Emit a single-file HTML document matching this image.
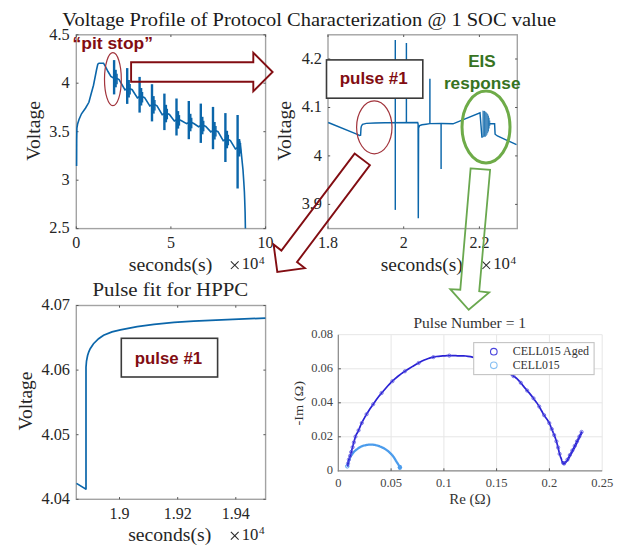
<!DOCTYPE html><html><head><meta charset="utf-8"><style>html,body{margin:0;padding:0;background:#fff;width:624px;height:548px;overflow:hidden}svg{display:block}</style></head><body>
<svg width="624" height="548" viewBox="0 0 624 548">
<rect width="624" height="548" fill="#fff"/>
<text x="62.3" y="25.8" font-family="'Liberation Serif', serif" font-size="19" font-weight="normal" fill="#1a1a1a" text-anchor="start" textLength="493.7" lengthAdjust="spacingAndGlyphs" >Voltage Profile of Protocol Characterization @ 1 SOC value</text>
<rect x="76.3" y="34.8" width="189.3" height="193.8" fill="none" stroke="#a3a3a3" stroke-width="1.4"/>
<line x1="76.3" y1="228.6" x2="76.3" y2="226.4" stroke="#555" stroke-width="1" />
<line x1="76.3" y1="34.8" x2="76.3" y2="37.0" stroke="#555" stroke-width="1" />
<line x1="170.9" y1="228.6" x2="170.9" y2="226.4" stroke="#555" stroke-width="1" />
<line x1="170.9" y1="34.8" x2="170.9" y2="37.0" stroke="#555" stroke-width="1" />
<line x1="265.6" y1="228.6" x2="265.6" y2="226.4" stroke="#555" stroke-width="1" />
<line x1="265.6" y1="34.8" x2="265.6" y2="37.0" stroke="#555" stroke-width="1" />
<line x1="76.3" y1="228.6" x2="78.5" y2="228.6" stroke="#555" stroke-width="1" />
<line x1="265.6" y1="228.6" x2="263.4" y2="228.6" stroke="#555" stroke-width="1" />
<line x1="76.3" y1="180.2" x2="78.5" y2="180.2" stroke="#555" stroke-width="1" />
<line x1="265.6" y1="180.2" x2="263.4" y2="180.2" stroke="#555" stroke-width="1" />
<line x1="76.3" y1="131.7" x2="78.5" y2="131.7" stroke="#555" stroke-width="1" />
<line x1="265.6" y1="131.7" x2="263.4" y2="131.7" stroke="#555" stroke-width="1" />
<line x1="76.3" y1="83.2" x2="78.5" y2="83.2" stroke="#555" stroke-width="1" />
<line x1="265.6" y1="83.2" x2="263.4" y2="83.2" stroke="#555" stroke-width="1" />
<line x1="76.3" y1="34.8" x2="78.5" y2="34.8" stroke="#555" stroke-width="1" />
<line x1="265.6" y1="34.8" x2="263.4" y2="34.8" stroke="#555" stroke-width="1" />
<text x="69.7" y="233.4" font-family="'Liberation Serif', serif" font-size="16.3" font-weight="normal" fill="#262626" text-anchor="end" >2.5</text>
<text x="69.7" y="185.0" font-family="'Liberation Serif', serif" font-size="16.3" font-weight="normal" fill="#262626" text-anchor="end" >3</text>
<text x="69.7" y="136.5" font-family="'Liberation Serif', serif" font-size="16.3" font-weight="normal" fill="#262626" text-anchor="end" >3.5</text>
<text x="69.7" y="88.0" font-family="'Liberation Serif', serif" font-size="16.3" font-weight="normal" fill="#262626" text-anchor="end" >4</text>
<text x="69.7" y="39.6" font-family="'Liberation Serif', serif" font-size="16.3" font-weight="normal" fill="#262626" text-anchor="end" >4.5</text>
<text x="76.3" y="248.2" font-family="'Liberation Serif', serif" font-size="16" font-weight="normal" fill="#262626" text-anchor="middle" >0</text>
<text x="170.9" y="248.2" font-family="'Liberation Serif', serif" font-size="16" font-weight="normal" fill="#262626" text-anchor="middle" >5</text>
<text x="265.6" y="248.2" font-family="'Liberation Serif', serif" font-size="16" font-weight="normal" fill="#262626" text-anchor="middle" >10</text>
<text x="128.8" y="270.5" font-family="'Liberation Serif', serif" font-size="18" font-weight="normal" fill="#262626" text-anchor="start" textLength="83.5" lengthAdjust="spacingAndGlyphs" >seconds(s)</text>
<line x1="230.9" y1="261.3" x2="238.6" y2="269.0" stroke="#262626" stroke-width="1.05" />
<line x1="238.6" y1="261.3" x2="230.9" y2="269.0" stroke="#262626" stroke-width="1.05" />
<text x="241.7" y="269.3" font-family="'Liberation Serif', serif" font-size="16.7" fill="#262626">10</text>
<text x="259.1" y="263.6" font-family="'Liberation Serif', serif" font-size="11.2" fill="#262626">4</text>
<text transform="translate(39.7,160.8) rotate(-90)" x="0" y="0" font-family="'Liberation Serif', serif" font-size="18" fill="#262626" textLength="59.8" lengthAdjust="spacingAndGlyphs">Voltage</text>
<rect x="328" y="34.8" width="189.3" height="193.8" fill="none" stroke="#a3a3a3" stroke-width="1.4"/>
<line x1="328.0" y1="228.6" x2="328.0" y2="226.4" stroke="#555" stroke-width="1" />
<line x1="328.0" y1="34.8" x2="328.0" y2="37.0" stroke="#555" stroke-width="1" />
<line x1="403.7" y1="228.6" x2="403.7" y2="226.4" stroke="#555" stroke-width="1" />
<line x1="403.7" y1="34.8" x2="403.7" y2="37.0" stroke="#555" stroke-width="1" />
<line x1="479.4" y1="228.6" x2="479.4" y2="226.4" stroke="#555" stroke-width="1" />
<line x1="479.4" y1="34.8" x2="479.4" y2="37.0" stroke="#555" stroke-width="1" />
<line x1="328.0" y1="204.4" x2="330.2" y2="204.4" stroke="#555" stroke-width="1" />
<line x1="517.3" y1="204.4" x2="515.1" y2="204.4" stroke="#555" stroke-width="1" />
<line x1="328.0" y1="155.9" x2="330.2" y2="155.9" stroke="#555" stroke-width="1" />
<line x1="517.3" y1="155.9" x2="515.1" y2="155.9" stroke="#555" stroke-width="1" />
<line x1="328.0" y1="107.5" x2="330.2" y2="107.5" stroke="#555" stroke-width="1" />
<line x1="517.3" y1="107.5" x2="515.1" y2="107.5" stroke="#555" stroke-width="1" />
<line x1="328.0" y1="59.0" x2="330.2" y2="59.0" stroke="#555" stroke-width="1" />
<line x1="517.3" y1="59.0" x2="515.1" y2="59.0" stroke="#555" stroke-width="1" />
<text x="322.0" y="209.2" font-family="'Liberation Serif', serif" font-size="16.3" font-weight="normal" fill="#262626" text-anchor="end" >3.9</text>
<text x="322.0" y="160.7" font-family="'Liberation Serif', serif" font-size="16.3" font-weight="normal" fill="#262626" text-anchor="end" >4</text>
<text x="322.0" y="112.3" font-family="'Liberation Serif', serif" font-size="16.3" font-weight="normal" fill="#262626" text-anchor="end" >4.1</text>
<text x="322.0" y="63.8" font-family="'Liberation Serif', serif" font-size="16.3" font-weight="normal" fill="#262626" text-anchor="end" >4.2</text>
<text x="328.0" y="248.2" font-family="'Liberation Serif', serif" font-size="16" font-weight="normal" fill="#262626" text-anchor="middle" >1.8</text>
<text x="403.7" y="248.2" font-family="'Liberation Serif', serif" font-size="16" font-weight="normal" fill="#262626" text-anchor="middle" >2</text>
<text x="479.4" y="248.2" font-family="'Liberation Serif', serif" font-size="16" font-weight="normal" fill="#262626" text-anchor="middle" >2.2</text>
<text x="380.8" y="270.5" font-family="'Liberation Serif', serif" font-size="18" font-weight="normal" fill="#262626" text-anchor="start" textLength="82.0" lengthAdjust="spacingAndGlyphs" >seconds(s)</text>
<line x1="482.4" y1="261.3" x2="490.1" y2="269.0" stroke="#262626" stroke-width="1.05" />
<line x1="490.1" y1="261.3" x2="482.4" y2="269.0" stroke="#262626" stroke-width="1.05" />
<text x="493.2" y="269.3" font-family="'Liberation Serif', serif" font-size="16.7" fill="#262626">10</text>
<text x="510.6" y="263.6" font-family="'Liberation Serif', serif" font-size="11.2" fill="#262626">4</text>
<text transform="translate(291.3,160.8) rotate(-90)" x="0" y="0" font-family="'Liberation Serif', serif" font-size="18" fill="#262626" textLength="59.8" lengthAdjust="spacingAndGlyphs">Voltage</text>
<rect x="76.3" y="305.5" width="189.3" height="193.8" fill="none" stroke="#a3a3a3" stroke-width="1.4"/>
<line x1="119.5" y1="499.3" x2="119.5" y2="497.1" stroke="#555" stroke-width="1" />
<line x1="119.5" y1="305.5" x2="119.5" y2="307.7" stroke="#555" stroke-width="1" />
<line x1="177.7" y1="499.3" x2="177.7" y2="497.1" stroke="#555" stroke-width="1" />
<line x1="177.7" y1="305.5" x2="177.7" y2="307.7" stroke="#555" stroke-width="1" />
<line x1="235.8" y1="499.3" x2="235.8" y2="497.1" stroke="#555" stroke-width="1" />
<line x1="235.8" y1="305.5" x2="235.8" y2="307.7" stroke="#555" stroke-width="1" />
<line x1="76.3" y1="499.3" x2="78.5" y2="499.3" stroke="#555" stroke-width="1" />
<line x1="265.6" y1="499.3" x2="263.4" y2="499.3" stroke="#555" stroke-width="1" />
<line x1="76.3" y1="434.7" x2="78.5" y2="434.7" stroke="#555" stroke-width="1" />
<line x1="265.6" y1="434.7" x2="263.4" y2="434.7" stroke="#555" stroke-width="1" />
<line x1="76.3" y1="370.1" x2="78.5" y2="370.1" stroke="#555" stroke-width="1" />
<line x1="265.6" y1="370.1" x2="263.4" y2="370.1" stroke="#555" stroke-width="1" />
<line x1="76.3" y1="305.5" x2="78.5" y2="305.5" stroke="#555" stroke-width="1" />
<line x1="265.6" y1="305.5" x2="263.4" y2="305.5" stroke="#555" stroke-width="1" />
<text x="70.0" y="504.1" font-family="'Liberation Serif', serif" font-size="16.3" font-weight="normal" fill="#262626" text-anchor="end" >4.04</text>
<text x="70.0" y="439.5" font-family="'Liberation Serif', serif" font-size="16.3" font-weight="normal" fill="#262626" text-anchor="end" >4.05</text>
<text x="70.0" y="374.9" font-family="'Liberation Serif', serif" font-size="16.3" font-weight="normal" fill="#262626" text-anchor="end" >4.06</text>
<text x="70.0" y="310.3" font-family="'Liberation Serif', serif" font-size="16.3" font-weight="normal" fill="#262626" text-anchor="end" >4.07</text>
<text x="119.5" y="519.0" font-family="'Liberation Serif', serif" font-size="16" font-weight="normal" fill="#262626" text-anchor="middle" >1.9</text>
<text x="177.7" y="519.0" font-family="'Liberation Serif', serif" font-size="16" font-weight="normal" fill="#262626" text-anchor="middle" >1.92</text>
<text x="235.8" y="519.0" font-family="'Liberation Serif', serif" font-size="16" font-weight="normal" fill="#262626" text-anchor="middle" >1.94</text>
<text x="92.4" y="296.0" font-family="'Liberation Serif', serif" font-size="18.6" font-weight="normal" fill="#262626" text-anchor="start" textLength="155.9" lengthAdjust="spacingAndGlyphs" >Pulse fit for HPPC</text>
<text x="128.2" y="540.8" font-family="'Liberation Serif', serif" font-size="18" font-weight="normal" fill="#262626" text-anchor="start" textLength="83.0" lengthAdjust="spacingAndGlyphs" >seconds(s)</text>
<line x1="230.9" y1="531.9" x2="238.6" y2="539.6" stroke="#262626" stroke-width="1.05" />
<line x1="238.6" y1="531.9" x2="230.9" y2="539.6" stroke="#262626" stroke-width="1.05" />
<text x="241.7" y="539.9" font-family="'Liberation Serif', serif" font-size="16.7" fill="#262626">10</text>
<text x="259.1" y="534.2" font-family="'Liberation Serif', serif" font-size="11.2" fill="#262626">4</text>
<text transform="translate(31.8,430.6) rotate(-90)" x="0" y="0" font-family="'Liberation Serif', serif" font-size="18" fill="#262626" textLength="59.1" lengthAdjust="spacingAndGlyphs">Voltage</text>
<line x1="391.1" y1="334.7" x2="391.1" y2="470.9" stroke="#e6e6e6" stroke-width="1" />
<line x1="443.9" y1="334.7" x2="443.9" y2="470.9" stroke="#e6e6e6" stroke-width="1" />
<line x1="496.6" y1="334.7" x2="496.6" y2="470.9" stroke="#e6e6e6" stroke-width="1" />
<line x1="549.4" y1="334.7" x2="549.4" y2="470.9" stroke="#e6e6e6" stroke-width="1" />
<line x1="602.2" y1="334.7" x2="602.2" y2="470.9" stroke="#e6e6e6" stroke-width="1" />
<line x1="338.3" y1="436.8" x2="602.2" y2="436.8" stroke="#e6e6e6" stroke-width="1" />
<line x1="338.3" y1="402.8" x2="602.2" y2="402.8" stroke="#e6e6e6" stroke-width="1" />
<line x1="338.3" y1="368.8" x2="602.2" y2="368.8" stroke="#e6e6e6" stroke-width="1" />
<line x1="338.3" y1="334.7" x2="602.2" y2="334.7" stroke="#e6e6e6" stroke-width="1" />
<line x1="338.3" y1="334.7" x2="338.3" y2="471.4" stroke="#858585" stroke-width="1.2" />
<line x1="337.8" y1="470.9" x2="602.2" y2="470.9" stroke="#858585" stroke-width="1.2" />
<line x1="391.1" y1="470.9" x2="391.1" y2="468.3" stroke="#555" stroke-width="1" />
<line x1="443.9" y1="470.9" x2="443.9" y2="468.3" stroke="#555" stroke-width="1" />
<line x1="496.6" y1="470.9" x2="496.6" y2="468.3" stroke="#555" stroke-width="1" />
<line x1="549.4" y1="470.9" x2="549.4" y2="468.3" stroke="#555" stroke-width="1" />
<line x1="338.3" y1="436.8" x2="340.9" y2="436.8" stroke="#555" stroke-width="1" />
<line x1="338.3" y1="402.8" x2="340.9" y2="402.8" stroke="#555" stroke-width="1" />
<line x1="338.3" y1="368.8" x2="340.9" y2="368.8" stroke="#555" stroke-width="1" />
<text x="338.3" y="487.0" font-family="'Liberation Serif', serif" font-size="12.5" font-weight="normal" fill="#444" text-anchor="middle" >0</text>
<text x="391.1" y="487.0" font-family="'Liberation Serif', serif" font-size="12.5" font-weight="normal" fill="#444" text-anchor="middle" >0.05</text>
<text x="443.9" y="487.0" font-family="'Liberation Serif', serif" font-size="12.5" font-weight="normal" fill="#444" text-anchor="middle" >0.1</text>
<text x="496.6" y="487.0" font-family="'Liberation Serif', serif" font-size="12.5" font-weight="normal" fill="#444" text-anchor="middle" >0.15</text>
<text x="549.4" y="487.0" font-family="'Liberation Serif', serif" font-size="12.5" font-weight="normal" fill="#444" text-anchor="middle" >0.2</text>
<text x="602.2" y="487.0" font-family="'Liberation Serif', serif" font-size="12.5" font-weight="normal" fill="#444" text-anchor="middle" >0.25</text>
<text x="333.0" y="474.1" font-family="'Liberation Serif', serif" font-size="12.5" font-weight="normal" fill="#444" text-anchor="end" >0</text>
<text x="333.0" y="440.0" font-family="'Liberation Serif', serif" font-size="12.5" font-weight="normal" fill="#444" text-anchor="end" >0.02</text>
<text x="333.0" y="406.0" font-family="'Liberation Serif', serif" font-size="12.5" font-weight="normal" fill="#444" text-anchor="end" >0.04</text>
<text x="333.0" y="371.9" font-family="'Liberation Serif', serif" font-size="12.5" font-weight="normal" fill="#444" text-anchor="end" >0.06</text>
<text x="333.0" y="337.9" font-family="'Liberation Serif', serif" font-size="12.5" font-weight="normal" fill="#444" text-anchor="end" >0.08</text>
<text x="413.5" y="327.5" font-family="'Liberation Serif', serif" font-size="14" font-weight="normal" fill="#333" text-anchor="start" textLength="112.5" lengthAdjust="spacingAndGlyphs" >Pulse Number = 1</text>
<text x="449.3" y="504.2" font-family="'Liberation Serif', serif" font-size="14" font-weight="normal" fill="#333" text-anchor="start" textLength="41.3" lengthAdjust="spacingAndGlyphs" >Re (Ω)</text>
<text transform="translate(302.7,425.6) rotate(-90)" x="0" y="0" font-family="'Liberation Serif', serif" font-size="13" fill="#333" textLength="44.6" lengthAdjust="spacingAndGlyphs">-Im (Ω)</text>
<polyline points="76.6,166.0 76.7,140.0 76.9,128.0 77.6,124.0 79.0,119.5 81.5,113.8 85.6,108.0 88.9,102.3 91.3,93.3 93.5,85.2 96.5,70.0 97.8,64.2 99.0,63.2 103.5,63.2 105.1,65.9 108.0,71.5 110.9,76.5 113.9,78.3 117.1,78.5 119.1,79.5 125.0,89.9 126.7,88.9 130.2,88.7 132.2,89.7 137.4,97.9 139.1,96.9 142.6,96.7 144.6,97.7 149.8,106.0 151.5,105.0 155.0,104.8 157.0,105.8 162.2,114.7 163.9,113.7 167.4,113.5 169.4,114.5 174.3,121.0 176.0,120.0 179.5,119.8 181.5,120.8 186.6,123.7 188.3,122.7 191.8,122.5 193.8,123.5 198.6,126.7 200.3,125.7 203.8,125.5 205.8,126.5 210.8,131.9 212.5,130.9 216.0,130.7 218.0,131.7 223.2,140.7 224.9,139.7 228.4,139.5 230.4,140.5 235.4,148.9 237.1,147.9 237.7,147.2 238.6,143.0 239.8,142.0 241.0,150.0 242.0,160.2 243.0,170.0 243.8,182.0 244.4,192.0 244.7,200.0 245.1,212.0 245.4,228.6" fill="none" stroke="#0b66aa" stroke-width="1.6" stroke-linejoin="miter" />
<line x1="114.1" y1="60.1" x2="114.1" y2="94.4" stroke="#0b66aa" stroke-width="2.4" />
<line x1="115.7" y1="69.8" x2="115.7" y2="87.3" stroke="#0b66aa" stroke-width="2.2" />
<line x1="117.0" y1="73.8" x2="117.0" y2="84.3" stroke="#0b66aa" stroke-width="1.5" />
<line x1="127.2" y1="68.1" x2="127.2" y2="103.9" stroke="#0b66aa" stroke-width="2.4" />
<line x1="128.8" y1="80.0" x2="128.8" y2="97.5" stroke="#0b66aa" stroke-width="2.2" />
<line x1="130.1" y1="84.0" x2="130.1" y2="94.5" stroke="#0b66aa" stroke-width="1.5" />
<line x1="139.6" y1="76.9" x2="139.6" y2="112.6" stroke="#0b66aa" stroke-width="2.4" />
<line x1="141.2" y1="88.0" x2="141.2" y2="105.5" stroke="#0b66aa" stroke-width="2.2" />
<line x1="142.5" y1="92.0" x2="142.5" y2="102.5" stroke="#0b66aa" stroke-width="1.5" />
<line x1="152.0" y1="84.2" x2="152.0" y2="121.4" stroke="#0b66aa" stroke-width="2.4" />
<line x1="153.6" y1="96.1" x2="153.6" y2="113.6" stroke="#0b66aa" stroke-width="2.2" />
<line x1="154.9" y1="100.1" x2="154.9" y2="110.6" stroke="#0b66aa" stroke-width="1.5" />
<line x1="164.4" y1="93.6" x2="164.4" y2="130.1" stroke="#0b66aa" stroke-width="2.4" />
<line x1="166.0" y1="104.8" x2="166.0" y2="122.3" stroke="#0b66aa" stroke-width="2.2" />
<line x1="167.3" y1="108.8" x2="167.3" y2="119.3" stroke="#0b66aa" stroke-width="1.5" />
<line x1="176.5" y1="98.5" x2="176.5" y2="135.5" stroke="#0b66aa" stroke-width="2.4" />
<line x1="178.1" y1="111.1" x2="178.1" y2="128.6" stroke="#0b66aa" stroke-width="2.2" />
<line x1="179.4" y1="115.1" x2="179.4" y2="125.6" stroke="#0b66aa" stroke-width="1.5" />
<line x1="188.8" y1="101.0" x2="188.8" y2="139.2" stroke="#0b66aa" stroke-width="2.4" />
<line x1="190.4" y1="113.8" x2="190.4" y2="131.3" stroke="#0b66aa" stroke-width="2.2" />
<line x1="191.7" y1="117.8" x2="191.7" y2="128.3" stroke="#0b66aa" stroke-width="1.5" />
<line x1="200.8" y1="103.6" x2="200.8" y2="142.9" stroke="#0b66aa" stroke-width="2.4" />
<line x1="202.4" y1="116.8" x2="202.4" y2="134.3" stroke="#0b66aa" stroke-width="2.2" />
<line x1="203.7" y1="120.8" x2="203.7" y2="131.3" stroke="#0b66aa" stroke-width="1.5" />
<line x1="213.0" y1="106.9" x2="213.0" y2="149.2" stroke="#0b66aa" stroke-width="2.4" />
<line x1="214.6" y1="122.0" x2="214.6" y2="139.5" stroke="#0b66aa" stroke-width="2.2" />
<line x1="215.9" y1="126.0" x2="215.9" y2="136.5" stroke="#0b66aa" stroke-width="1.5" />
<line x1="225.4" y1="113.1" x2="225.4" y2="162.0" stroke="#0b66aa" stroke-width="2.4" />
<line x1="227.0" y1="130.8" x2="227.0" y2="148.3" stroke="#0b66aa" stroke-width="2.2" />
<line x1="228.3" y1="134.8" x2="228.3" y2="145.3" stroke="#0b66aa" stroke-width="1.5" />
<line x1="237.6" y1="115.0" x2="237.6" y2="188.5" stroke="#0b66aa" stroke-width="2.4" />
<line x1="239.2" y1="139.0" x2="239.2" y2="156.5" stroke="#0b66aa" stroke-width="2.2" />
<line x1="240.5" y1="143.0" x2="240.5" y2="153.5" stroke="#0b66aa" stroke-width="1.5" />
<polyline points="328.2,122.5 356.7,134.2 359.5,135.4 360.6,135.2 361.0,128.0 361.4,126.2 362.5,124.4 366.3,123.4 375.0,123.0 385.0,122.7 417.7,122.6 418.1,124.0 418.3,218.3 418.6,128.0 419.6,125.6 422.0,124.8 426.0,124.2 429.9,123.6 441.4,123.5 453.0,123.8 480.0,112.8 481.9,137.0 482.8,137.0" fill="none" stroke="#0b66aa" stroke-width="1.45" stroke-linejoin="miter" />
<line x1="395.3" y1="40.0" x2="395.3" y2="209.9" stroke="#0b66aa" stroke-width="1.45" />
<line x1="406.4" y1="43.0" x2="406.4" y2="122.8" stroke="#0b66aa" stroke-width="1.45" />
<line x1="429.9" y1="78.7" x2="429.9" y2="123.6" stroke="#0b66aa" stroke-width="1.45" />
<line x1="441.1" y1="123.5" x2="441.1" y2="168.9" stroke="#0b66aa" stroke-width="1.45" />
<line x1="482.9" y1="110.6" x2="482.9" y2="137.0" stroke="#0b66aa" stroke-width="0.8" />
<line x1="483.7" y1="111.0" x2="483.7" y2="137.2" stroke="#0b66aa" stroke-width="0.8" />
<line x1="484.5" y1="110.9" x2="484.5" y2="136.6" stroke="#0b66aa" stroke-width="0.8" />
<line x1="485.3" y1="111.6" x2="485.3" y2="136.9" stroke="#0b66aa" stroke-width="0.8" />
<line x1="486.1" y1="112.2" x2="486.1" y2="136.0" stroke="#0b66aa" stroke-width="0.8" />
<line x1="486.9" y1="113.0" x2="486.9" y2="134.8" stroke="#0b66aa" stroke-width="0.8" />
<line x1="487.7" y1="114.0" x2="487.7" y2="133.2" stroke="#0b66aa" stroke-width="0.8" />
<line x1="488.5" y1="115.6" x2="488.5" y2="131.5" stroke="#0b66aa" stroke-width="0.8" />
<line x1="489.2" y1="117.8" x2="489.2" y2="128.5" stroke="#0b66aa" stroke-width="0.8" />
<line x1="489.8" y1="120.5" x2="489.8" y2="126.0" stroke="#0b66aa" stroke-width="0.8" />
<polyline points="489.5,123.7 494.6,123.7 495.1,134.2 497.4,136.0 516.5,144.7" fill="none" stroke="#0b66aa" stroke-width="1.45" stroke-linejoin="miter" />
<polyline points="76.5,483.4 85.8,489.1 86.0,489.5 86.0,392.0 86.0,367.2 86.5,361.0 87.6,355.5 88.8,351.8 90.2,348.7 93.5,343.7 98.6,338.7 103.6,335.3 112.0,331.9 120.4,329.9 137.2,326.6 154.0,324.4 174.0,322.4 193.6,321.1 227.2,319.6 265.4,318.1" fill="none" stroke="#0b66aa" stroke-width="1.7" stroke-linejoin="miter" />
<polyline points="347.3,466.5 347.4,466.0 347.6,465.4 347.8,464.6 348.0,463.7 348.2,462.8 348.5,462.0 348.8,461.2 349.1,460.3 349.4,459.4 349.7,458.6 350.0,457.8 350.4,457.0 350.8,456.3 351.1,455.6 351.5,455.0 352.0,454.4 352.4,453.9 352.8,453.3 353.2,452.8 353.6,452.3 354.0,451.8 354.5,451.3 355.0,450.8 355.6,450.3 356.3,449.7 357.2,449.1 358.1,448.4 359.0,447.8 359.9,447.2 360.8,446.7 361.7,446.3 362.5,446.0 363.4,445.7 364.3,445.5 365.1,445.3 366.0,445.1 366.9,444.9 367.7,444.8 368.6,444.7 369.5,444.6 370.4,444.6 371.2,444.6 372.1,444.6 373.0,444.7 373.9,444.8 374.8,444.9 375.6,445.1 376.5,445.3 377.4,445.5 378.3,445.8 379.2,446.1 380.0,446.5 380.9,446.8 381.7,447.2 382.5,447.6 383.2,447.9 383.9,448.3 384.6,448.7 385.3,449.1 386.0,449.6 386.7,450.1 387.4,450.6 388.1,451.2 388.7,451.7 389.4,452.3 390.0,452.9 390.6,453.5 391.2,454.1 391.8,454.8 392.4,455.4 393.0,456.1 393.5,456.8 394.0,457.5 394.5,458.3 395.0,459.1 395.4,459.8 395.8,460.6 396.2,461.2 396.6,461.9 397.0,462.4 397.3,463.0 397.7,463.5 398.0,464.0 398.3,464.5 398.6,465.0 398.9,465.5 399.2,466.0 399.5,466.4 399.7,466.7 399.9,467.0" fill="none" stroke="#4b9cec" stroke-width="2.3" stroke-linejoin="miter" />
<ellipse cx="399.9" cy="467.3" rx="2.2" ry="2.6" fill="#4b9cec"/>
<circle cx="347.3" cy="466.3" r="1.8" fill="none" stroke="#4b9cec" stroke-width="0.9"/>
<polyline points="347.6,466.5 347.7,465.9 347.8,465.1 347.9,464.1 348.1,463.1 348.3,462.0 348.5,461.0 348.8,460.1 349.0,459.2 349.3,458.2 349.7,457.3 350.0,456.2 350.4,455.0 350.8,453.6 351.2,452.1 351.7,450.5 352.1,448.9 352.6,447.2 353.0,445.6 353.4,444.0 353.8,442.4 354.3,440.8 354.7,439.2 355.1,437.7 355.6,436.3 356.1,435.1 356.6,434.0 357.2,433.0 357.7,432.0 358.2,431.0 358.8,430.0 359.2,429.0 359.5,428.1 359.9,427.1 360.3,426.1 360.8,424.9 361.5,423.5 362.3,421.9 363.2,420.1 364.3,418.2 365.4,416.1 366.8,413.9 368.3,411.5 370.0,408.8 372.0,405.9 374.1,402.9 376.3,399.7 378.7,396.6 381.1,393.6 383.6,390.7 386.2,387.7 388.8,384.8 391.6,381.9 394.6,379.2 397.7,376.5 401.1,373.9 404.9,371.3 408.8,368.8 412.6,366.4 416.2,364.3 419.4,362.5 422.0,361.1 424.3,360.0 426.4,359.2 428.3,358.5 430.2,357.9 432.2,357.4 434.3,356.9 436.4,356.5 438.5,356.3 440.7,356.1 442.8,355.9 444.9,355.8 447.0,355.7 449.2,355.6 451.3,355.6 453.4,355.7 455.6,355.7 457.7,355.8 459.8,355.8 461.8,355.9 463.7,355.9 465.8,356.0 468.0,356.3 470.5,356.7 473.3,357.3 476.3,358.1 479.5,359.1 482.7,360.1 485.9,361.3 489.0,362.5 492.0,363.9 495.1,365.5 498.2,367.2 501.2,368.9 503.9,370.5 506.4,372.0 508.6,373.2 510.5,374.3 512.2,375.3 513.7,376.3 515.2,377.3 516.7,378.5 518.1,379.8 519.5,381.3 520.7,382.8 521.9,384.3 523.2,385.9 524.4,387.4 525.7,388.9 527.0,390.4 528.3,391.9 529.6,393.4 530.8,394.9 532.0,396.4 533.2,397.9 534.3,399.4 535.4,400.9 536.5,402.4 537.5,403.9 538.5,405.4 539.4,406.9 540.3,408.5 541.1,410.0 542.0,411.5 542.8,413.0 543.6,414.4 544.5,415.7 545.3,417.0 546.2,418.2 547.1,419.4 547.9,420.7 548.7,422.0 549.4,423.4 550.1,424.8 550.7,426.3 551.4,427.9 552.0,429.4 552.6,431.0 553.2,432.6 553.9,434.2 554.5,435.9 555.2,437.6 555.8,439.4 556.4,441.3 557.0,443.4 557.6,445.7 558.2,448.0 558.7,450.3 559.2,452.4 559.7,454.1 560.1,455.5 560.4,456.5 560.7,457.4 561.0,458.1 561.3,458.8 561.5,459.5 561.7,460.2 561.9,460.8 562.1,461.3 562.2,461.8 562.4,462.2 562.6,462.6 562.8,462.9 563.0,463.2 563.3,463.4 563.5,463.5 563.8,463.6 564.0,463.6 564.3,463.5 564.5,463.4 564.8,463.2 565.1,463.0 565.3,462.7 565.6,462.4 565.9,462.1 566.2,461.7 566.5,461.2 566.7,460.8 566.9,460.5 567.1,460.2 574.1,447.1 581.8,431.5" fill="none" stroke="#2a22d4" stroke-width="1.7" stroke-linejoin="miter" />
<polyline points="563.0,463.8 567.8,460.5 574.8,447.6 582.3,432.2" fill="none" stroke="#2a22d4" stroke-width="1.4" stroke-linejoin="miter" />
<ellipse cx="563.6" cy="463" rx="2.3" ry="1.8" fill="#2a22d4"/>
<circle cx="348.0" cy="463.5" r="1.6" fill="none" stroke="#5b55e0" stroke-width="0.8"/>
<circle cx="348.9" cy="459.6" r="1.6" fill="none" stroke="#5b55e0" stroke-width="0.8"/>
<circle cx="350.1" cy="455.8" r="1.6" fill="none" stroke="#5b55e0" stroke-width="0.8"/>
<circle cx="351.2" cy="452.0" r="1.6" fill="none" stroke="#5b55e0" stroke-width="0.8"/>
<circle cx="352.6" cy="447.2" r="1.6" fill="none" stroke="#5b55e0" stroke-width="0.8"/>
<circle cx="353.9" cy="442.3" r="1.6" fill="none" stroke="#5b55e0" stroke-width="0.8"/>
<circle cx="355.5" cy="436.6" r="1.6" fill="none" stroke="#5b55e0" stroke-width="0.8"/>
<circle cx="358.6" cy="430.3" r="1.6" fill="none" stroke="#5b55e0" stroke-width="0.8"/>
<circle cx="361.8" cy="423.0" r="1.6" fill="none" stroke="#5b55e0" stroke-width="0.8"/>
<circle cx="366.6" cy="414.2" r="1.6" fill="none" stroke="#5b55e0" stroke-width="0.8"/>
<circle cx="373.2" cy="404.2" r="1.6" fill="none" stroke="#5b55e0" stroke-width="0.8"/>
<circle cx="381.6" cy="393.0" r="1.6" fill="none" stroke="#5b55e0" stroke-width="0.8"/>
<circle cx="392.4" cy="381.2" r="1.6" fill="none" stroke="#5b55e0" stroke-width="0.8"/>
<circle cx="404.9" cy="371.3" r="1.6" fill="none" stroke="#5b55e0" stroke-width="0.8"/>
<circle cx="418.6" cy="363.0" r="1.6" fill="none" stroke="#5b55e0" stroke-width="0.8"/>
<circle cx="433.4" cy="357.1" r="1.6" fill="none" stroke="#5b55e0" stroke-width="0.8"/>
<circle cx="449.3" cy="355.6" r="1.6" fill="none" stroke="#5b55e0" stroke-width="0.8"/>
<circle cx="581.6" cy="431.9" r="1.6" fill="none" stroke="#5b55e0" stroke-width="0.8"/>
<circle cx="579.3" cy="436.6" r="1.6" fill="none" stroke="#5b55e0" stroke-width="0.8"/>
<circle cx="577.0" cy="441.3" r="1.6" fill="none" stroke="#5b55e0" stroke-width="0.8"/>
<circle cx="574.7" cy="445.9" r="1.6" fill="none" stroke="#5b55e0" stroke-width="0.8"/>
<circle cx="572.3" cy="450.5" r="1.6" fill="none" stroke="#5b55e0" stroke-width="0.8"/>
<circle cx="569.8" cy="455.1" r="1.6" fill="none" stroke="#5b55e0" stroke-width="0.8"/>
<circle cx="567.4" cy="459.7" r="1.6" fill="none" stroke="#5b55e0" stroke-width="0.8"/>
<circle cx="564.1" cy="463.6" r="1.6" fill="none" stroke="#5b55e0" stroke-width="0.8"/>
<circle cx="559.6" cy="453.9" r="1.6" fill="none" stroke="#5b55e0" stroke-width="0.8"/>
<circle cx="558.1" cy="447.5" r="1.6" fill="none" stroke="#5b55e0" stroke-width="0.8"/>
<circle cx="556.4" cy="441.3" r="1.6" fill="none" stroke="#5b55e0" stroke-width="0.8"/>
<circle cx="554.2" cy="435.1" r="1.6" fill="none" stroke="#5b55e0" stroke-width="0.8"/>
<circle cx="551.8" cy="429.1" r="1.6" fill="none" stroke="#5b55e0" stroke-width="0.8"/>
<circle cx="549.3" cy="423.1" r="1.6" fill="none" stroke="#5b55e0" stroke-width="0.8"/>
<circle cx="544.1" cy="415.2" r="1.6" fill="none" stroke="#5b55e0" stroke-width="0.8"/>
<circle cx="539.2" cy="406.5" r="1.6" fill="none" stroke="#5b55e0" stroke-width="0.8"/>
<circle cx="533.5" cy="398.3" r="1.6" fill="none" stroke="#5b55e0" stroke-width="0.8"/>
<circle cx="527.1" cy="390.5" r="1.6" fill="none" stroke="#5b55e0" stroke-width="0.8"/>
<circle cx="520.8" cy="382.8" r="1.6" fill="none" stroke="#5b55e0" stroke-width="0.8"/>
<circle cx="513.4" cy="376.1" r="1.6" fill="none" stroke="#5b55e0" stroke-width="0.8"/>
<circle cx="504.8" cy="371.1" r="1.6" fill="none" stroke="#5b55e0" stroke-width="0.8"/>
<circle cx="496.1" cy="366.1" r="1.6" fill="none" stroke="#5b55e0" stroke-width="0.8"/>
<circle cx="487.1" cy="361.7" r="1.6" fill="none" stroke="#5b55e0" stroke-width="0.8"/>
<rect x="473.7" y="342.6" width="120.4" height="32" fill="#fff" stroke="#c4c4c4" stroke-width="1.1"/>
<circle cx="493.8" cy="351.7" r="3.3" fill="none" stroke="#4a44dd" stroke-width="1.1"/>
<circle cx="493.8" cy="365.3" r="3.3" fill="none" stroke="#86bff2" stroke-width="1.1"/>
<text x="512.8" y="355.0" font-family="'Liberation Serif', serif" font-size="12.3" font-weight="normal" fill="#333" text-anchor="start" textLength="76.2" lengthAdjust="spacingAndGlyphs" >CELL015 Aged</text>
<text x="512.8" y="368.8" font-family="'Liberation Serif', serif" font-size="12.3" font-weight="normal" fill="#333" text-anchor="start" textLength="46.9" lengthAdjust="spacingAndGlyphs" >CELL015</text>
<text x="72.6" y="48.5" font-family="'Liberation Sans', sans-serif" font-size="16.5" font-weight="bold" fill="#820d12" text-anchor="start" textLength="80.3" lengthAdjust="spacingAndGlyphs" >“pit stop”</text>
<ellipse cx="112.9" cy="79.2" rx="8.4" ry="26.5" fill="none" stroke="#a2343c" stroke-width="1.2"/>
<polygon points="131.1,62.3 253.3,62.3 253.3,52.7 272.6,72.0 253.3,91.3 253.3,81.7 131.1,81.7" fill="none" stroke="#820d12" stroke-width="1.9" stroke-linejoin="miter" />
<rect x="326.5" y="59.9" width="96.3" height="38.3" fill="#fff" stroke="#3a3a3a" stroke-width="1.6"/>
<text x="339.7" y="84.1" font-family="'Liberation Sans', sans-serif" font-size="16.5" font-weight="bold" fill="#820d12" text-anchor="start" textLength="67.9" lengthAdjust="spacingAndGlyphs" >pulse #1</text>
<ellipse cx="374.3" cy="127.3" rx="17.7" ry="26.5" fill="none" stroke="#a2343c" stroke-width="1.2"/>
<text x="468.2" y="67.4" font-family="'Liberation Sans', sans-serif" font-size="16.5" font-weight="bold" fill="#377322" text-anchor="start" textLength="27.6" lengthAdjust="spacingAndGlyphs" >EIS</text>
<text x="443.9" y="88.5" font-family="'Liberation Sans', sans-serif" font-size="16.8" font-weight="bold" fill="#377322" text-anchor="start" textLength="76.6" lengthAdjust="spacingAndGlyphs" >response</text>
<ellipse cx="486" cy="127" rx="24" ry="35.9" fill="none" stroke="#6eab48" stroke-width="3"/>
<polygon points="470.6,168.4 490.1,169.9 479.2,291.3 489.2,292.5 468.7,309.8 450.3,289.2 460.3,289.7" fill="none" stroke="#6aa84f" stroke-width="1.8" stroke-linejoin="miter" />
<polygon points="354.6,153.6 369.9,165.1 297.0,262.1 304.8,268.1 277.3,271.9 273.6,244.4 281.4,250.6" fill="none" stroke="#820d12" stroke-width="1.9" stroke-linejoin="miter" />
<rect x="121.3" y="338.3" width="96.3" height="38.7" fill="#fff" stroke="#3a3a3a" stroke-width="1.6"/>
<text x="134.8" y="363.5" font-family="'Liberation Sans', sans-serif" font-size="16.5" font-weight="bold" fill="#820d12" text-anchor="start" textLength="67.3" lengthAdjust="spacingAndGlyphs" >pulse #1</text>
</svg></body></html>
